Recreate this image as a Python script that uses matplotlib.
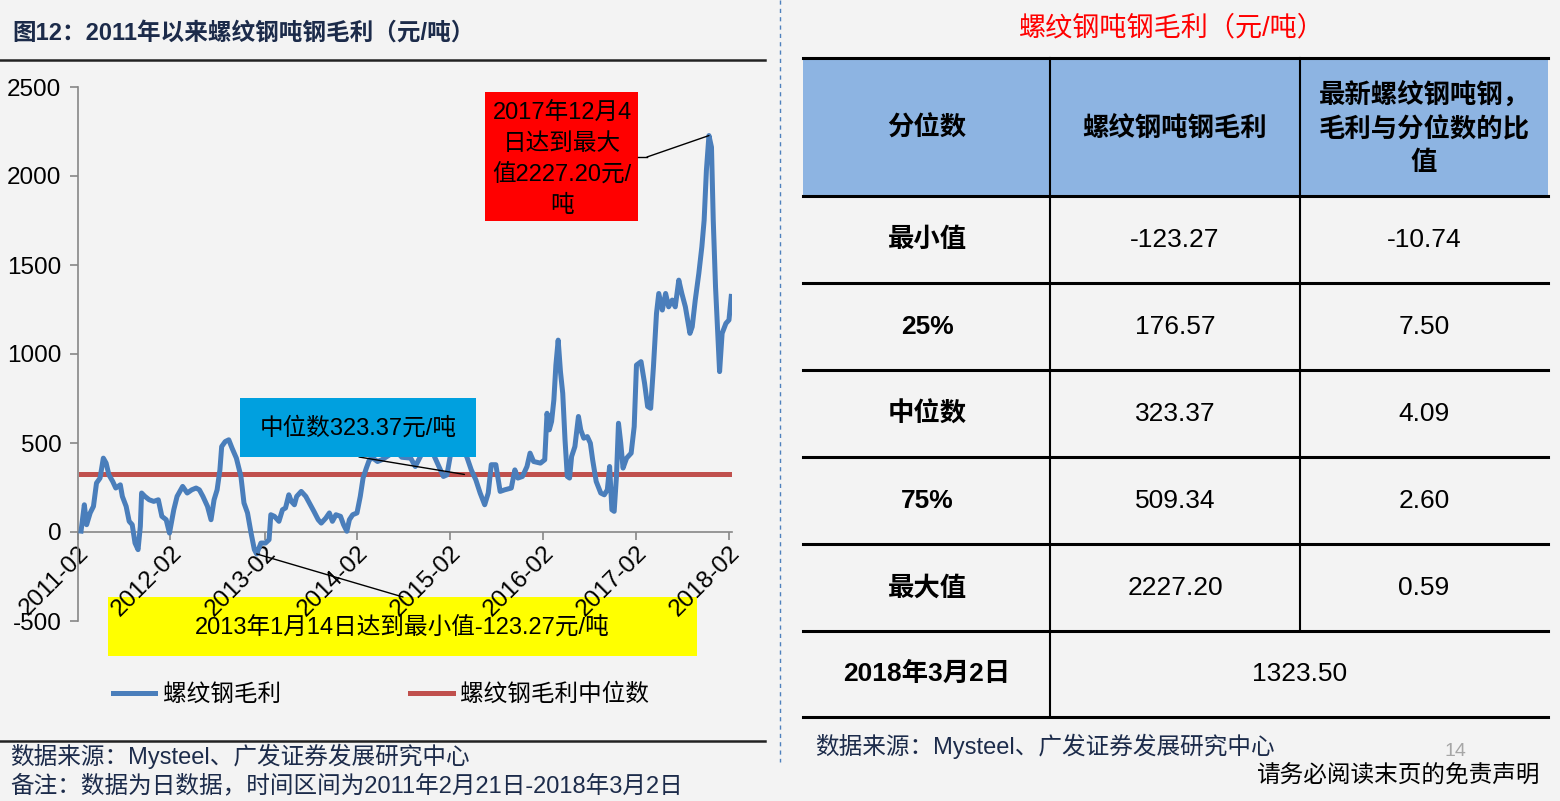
import matplotlib
matplotlib.use('Agg')
import matplotlib.pyplot as plt
from matplotlib.patches import Rectangle
from matplotlib.lines import Line2D
import pandas as pd

plt.rcParams['font.family'] = ['Liberation Sans', 'Noto Sans CJK SC', 'DejaVu Sans']
plt.rcParams['axes.unicode_minus'] = False

# ---- data (元/吨) ----
dates = [
    '2011-02-21', '2011-03-06', '2011-03-15', '2011-03-29', '2011-04-11', '2011-04-23', '2011-05-07',
    '2011-05-20', '2011-05-31', '2011-06-11', '2011-06-26', '2011-07-08', '2011-07-26', '2011-08-03',
    '2011-08-18', '2011-08-30', '2011-09-11', '2011-09-22', '2011-10-04', '2011-10-13', '2011-10-18',
    '2011-10-31', '2011-11-17', '2011-12-05', '2011-12-23',
    '2012-01-06', '2012-01-23', '2012-02-05', '2012-02-22', '2012-03-06', '2012-03-28', '2012-04-15',
    '2012-05-03', '2012-05-20', '2012-06-02', '2012-06-16', '2012-07-04', '2012-07-18', '2012-07-30',
    '2012-08-11', '2012-08-22', '2012-08-29', '2012-09-12', '2012-09-26', '2012-10-09', '2012-10-26',
    '2012-11-13', '2012-11-25', '2012-12-09', '2012-12-23',
    '2013-01-05', '2013-01-14', '2013-01-31', '2013-02-18', '2013-03-04', '2013-03-11', '2013-03-25',
    '2013-04-12', '2013-04-26', '2013-05-08', '2013-05-21', '2013-05-31', '2013-06-12', '2013-06-21',
    '2013-07-09', '2013-07-27', '2013-08-10', '2013-08-28', '2013-09-14', '2013-09-26', '2013-10-14',
    '2013-10-28', '2013-11-09', '2013-11-23', '2013-12-11', '2013-12-23',
    '2014-01-05', '2014-01-15', '2014-01-28', '2014-02-14', '2014-02-27', '2014-03-10', '2014-03-23',
    '2014-04-04', '2014-04-18', '2014-05-06', '2014-05-23', '2014-06-19', '2014-07-15', '2014-08-10',
    '2014-09-14', '2014-10-02', '2014-10-28', '2014-12-02',
    '2015-01-03', '2015-01-21', '2015-02-04', '2015-02-20', '2015-03-10', '2015-03-28', '2015-04-23',
    '2015-05-11', '2015-05-29', '2015-06-15', '2015-07-03', '2015-07-17', '2015-07-29', '2015-08-16',
    '2015-09-02', '2015-09-20', '2015-10-16', '2015-10-30', '2015-11-11', '2015-11-29', '2015-12-17',
    '2015-12-29',
    '2016-01-12', '2016-02-08', '2016-02-25', '2016-03-05', '2016-03-14', '2016-03-23', '2016-04-01',
    '2016-04-09', '2016-04-18', '2016-04-27', '2016-05-06', '2016-05-15', '2016-05-24', '2016-06-02',
    '2016-06-10', '2016-06-23', '2016-07-07', '2016-07-16', '2016-07-28', '2016-08-11', '2016-08-23',
    '2016-09-01', '2016-09-15', '2016-10-03', '2016-10-17', '2016-10-29', '2016-11-07', '2016-11-16',
    '2016-11-25', '2016-12-04', '2016-12-12', '2016-12-21', '2016-12-30',
    '2017-01-13', '2017-01-31', '2017-02-12', '2017-02-21', '2017-03-11', '2017-03-25', '2017-04-06',
    '2017-04-18', '2017-04-29', '2017-05-11', '2017-05-20', '2017-06-03', '2017-06-16', '2017-06-28',
    '2017-07-12', '2017-07-24', '2017-08-07', '2017-08-19', '2017-09-02', '2017-09-20', '2017-09-29',
    '2017-10-11', '2017-10-25', '2017-11-06', '2017-11-15', '2017-11-24', '2017-12-04', '2017-12-14',
    '2017-12-21', '2017-12-30',
    '2018-01-08', '2018-01-15', '2018-01-25', '2018-02-09', '2018-02-21', '2018-03-02',
]
margin = [
    5, 153, 41, 107, 144, 275, 303, 415, 387, 321, 284, 247, 265, 200, 144, 60, 41, -62, -99, 32, 219,
    200, 181, 172, 181,
    88, 69, -6, 125, 200, 256, 219, 237, 247, 237, 200, 144, 69, 181, 237, 349, 480, 508, 518, 471, 415,
    312, 163, 107, -6,
    -99, -123.27, -62, -62, -43, 97, 88, 60, 125, 135, 209, 172, 153, 200, 228, 200, 163, 116, 69, 50,
    78, 107, 60, 97, 88, 41,
    4, 69, 97, 107, 200, 303, 359, 406, 415, 396, 406, 430, 460, 420, 415, 368, 440, 470,
    368, 312, 321, 450, 540, 470, 424, 349, 293, 219, 153, 219, 378, 378, 228, 237, 247, 349, 303, 312,
    368, 443,
    396, 387, 406, 667, 574, 621, 742, 938, 1078, 901, 779, 518, 312, 303, 424, 480, 649, 574, 527, 536,
    499, 406, 284, 219, 209, 237, 368, 125, 116, 312, 611, 499, 359,
    415, 443, 592, 938, 957, 835, 705, 695, 929, 1228, 1340, 1247, 1340, 1265, 1303, 1265, 1415, 1340,
    1265, 1116, 1153, 1303, 1452, 1602, 1751, 2032, 2227.2, 2162, 1751, 1377,
    1116, 901, 1116, 1172, 1191, 1323.5,
]
median_value = 323.37
max_date, max_value = '2017-12-04', 2227.20
min_date, min_value = '2013-01-14', -123.27

tick_dates = ['2011-02-09', '2012-02-09', '2013-02-15', '2014-02-15', '2015-02-17',
              '2016-02-19', '2017-02-19', '2018-02-20']
tick_labels = ['2011-02', '2012-02', '2013-02', '2014-02', '2015-02', '2016-02', '2017-02', '2018-02']

# table on the right
table_title = '螺纹钢吨钢毛利（元/吨）'
header = ['分位数', '螺纹钢吨钢毛利', '最新螺纹钢吨钢，\n毛利与分位数的比\n值']
row_labels = ['最小值', '25%', '中位数', '75%', '最大值']
quantile_values = ['-123.27', '176.57', '323.37', '509.34', '2227.20']
ratio_values = ['-10.74', '7.50', '4.09', '2.60', '0.59']
latest_label, latest_value = '2018年3月2日', '1323.50'

W, H = 1560, 801
BG = '#f3f3f3'
NAVY = '#1c2b4a'


def fx(x):
    return x / W


def fy(y):
    return 1 - y / H


fig = plt.figure(figsize=(15.6, 8.01), dpi=100, facecolor=BG)

# ---- left: line chart ----
ax = fig.add_axes([fx(78), fy(621), fx(732) - fx(78), fy(87) - fy(621)])
ax.set_facecolor('none')
x = pd.to_datetime(dates)
ax.plot(x, margin, color='#4a7ebb', lw=3.6, solid_joinstyle='round', label='螺纹钢毛利', zorder=3)
ax.plot([x[0], x[-1]], [median_value, median_value], color='#c0504d', lw=3.6,
        label='螺纹钢毛利中位数', zorder=2)

ax.set_xlim(pd.Timestamp('2011-02-09'), pd.Timestamp('2018-03-05'))
ax.set_ylim(-500, 2500)
ax.set_yticks(range(-500, 2501, 500))
for s in ['top', 'right']:
    ax.spines[s].set_visible(False)
ax.spines['bottom'].set_position(('data', 0))
for s in ['bottom', 'left']:
    ax.spines[s].set_color('#868686')
    ax.spines[s].set_linewidth(1.2)
ax.tick_params(axis='both', direction='out', length=6, width=1.2, color='#868686',
               labelsize=17.5, labelcolor='black')
ax.tick_params(axis='y', pad=6)
ax.tick_params(axis='x', pad=1)
ax.set_xticks(pd.to_datetime(tick_dates))
ax.set_xticklabels(tick_labels)
for lab in ax.get_xticklabels():
    lab.set_rotation(45)
    lab.set_ha('right')
    lab.set_va('top')
    lab.set_rotation_mode('anchor')

ax.legend(loc='center', bbox_to_anchor=(fx(381), fy(695)), bbox_transform=fig.transFigure,
          ncol=2, frameon=False, fontsize=17, handlelength=1.8, handletextpad=0.3,
          columnspacing=5.5)

# max annotation (red box)
fig.add_artist(Rectangle((fx(485), fy(221)), fx(638) - fx(485), fy(92) - fy(221),
                         transform=fig.transFigure, facecolor='#ff0000', edgecolor='none', zorder=2))
fig.text(fx(562), fy(160), '2017年12月4\n日达到最大\n值2227.20元/\n吨', ha='center', va='center',
         fontsize=17, linespacing=1.5, zorder=4)
fig.add_artist(Line2D([fx(638), fx(647)], [fy(157), fy(157)], color='black', lw=1,
                      transform=fig.transFigure))
ax.annotate('', xy=(pd.Timestamp(max_date), max_value), xytext=(fx(647), fy(157)),
            textcoords='figure fraction', annotation_clip=False,
            arrowprops=dict(arrowstyle='-', color='black', lw=1, shrinkA=0, shrinkB=0))

# median annotation (cyan box)
fig.add_artist(Rectangle((fx(240), fy(457)), fx(476) - fx(240), fy(398) - fy(457),
                         transform=fig.transFigure, facecolor='#00a0df', edgecolor='none', zorder=2))
fig.text(fx(358), fy(428), '中位数323.37元/吨', ha='center', va='center', fontsize=17, zorder=4)
ax.annotate('', xy=(pd.Timestamp('2015-04-14'), median_value), xytext=(fx(359), fy(457)),
            textcoords='figure fraction', annotation_clip=False,
            arrowprops=dict(arrowstyle='-', color='black', lw=1, shrinkA=0, shrinkB=0))

# min annotation (yellow box, under the tick labels)
fig.add_artist(Rectangle((fx(108), fy(656)), fx(697) - fx(108), fy(597) - fy(656),
                         transform=fig.transFigure, facecolor='#ffff00', edgecolor='none', zorder=-1))
fig.text(fx(402), fy(627), '2013年1月14日达到最小值-123.27元/吨', ha='center', va='center',
         fontsize=17, zorder=4)
ax.annotate('', xy=(pd.Timestamp(min_date), min_value), xytext=(fx(403), fy(597)),
            textcoords='figure fraction', annotation_clip=False,
            arrowprops=dict(arrowstyle='-', color='black', lw=1, shrinkA=0, shrinkB=0))

# frame, title and notes
fig.add_artist(Line2D([0, fx(765)], [fy(60), fy(60)], color='#222222', lw=1.8, transform=fig.transFigure))
fig.add_artist(Line2D([0, fx(765)], [fy(741), fy(741)], color='#222222', lw=1.8, transform=fig.transFigure))
fig.add_artist(Line2D([fx(780), fx(780)], [1, fy(762)], color='#4f81bd', lw=1,
                      linestyle=(0, (3, 3)), transform=fig.transFigure))
fig.text(fx(12), fy(33), '图12：2011年以来螺纹钢吨钢毛利（元/吨）', fontsize=17, fontweight='bold',
         color=NAVY, va='center')
fig.text(fx(10), fy(756), '数据来源：Mysteel、广发证券发展研究中心', fontsize=17, color=NAVY, va='center')
fig.text(fx(10), fy(786), '备注：数据为日数据，时间区间为2011年2月21日-2018年3月2日', fontsize=17,
         color=NAVY, va='center')

# ---- right: table ----
fig.text(fx(1172), fy(28), table_title, color='#ff0000', fontsize=19.5, ha='center', va='center')
fig.add_artist(Rectangle((fx(803), fy(196)), fx(1548) - fx(803), fy(58) - fy(196),
                         transform=fig.transFigure, facecolor='#8db4e2', edgecolor='none'))
for yy in [58, 196, 283, 370, 457, 544, 631, 717]:
    fig.add_artist(Line2D([fx(803), fx(1548)], [fy(yy), fy(yy)], color='black', lw=2.2,
                          transform=fig.transFigure))
fig.add_artist(Line2D([fx(1050), fx(1050)], [fy(58), fy(717)], color='black', lw=1.5,
                      transform=fig.transFigure))
fig.add_artist(Line2D([fx(1300), fx(1300)], [fy(58), fy(631)], color='black', lw=1.5,
                      transform=fig.transFigure))

col_x = [927, 1175, 1424]
for cx, txt in zip(col_x, header):
    fig.text(fx(cx), fy(128), txt, ha='center', va='center', fontsize=19, fontweight='bold',
             linespacing=1.45)
row_y = [240, 327, 414, 501, 588]
for ry, lab, v1, v2 in zip(row_y, row_labels, quantile_values, ratio_values):
    fig.text(fx(col_x[0]), fy(ry), lab, ha='center', va='center', fontsize=19, fontweight='bold')
    fig.text(fx(col_x[1]), fy(ry), v1, ha='center', va='center', fontsize=19)
    fig.text(fx(col_x[2]), fy(ry), v2, ha='center', va='center', fontsize=19)
fig.text(fx(col_x[0]), fy(674), latest_label, ha='center', va='center', fontsize=19, fontweight='bold')
fig.text(fx(1300), fy(674), latest_value, ha='center', va='center', fontsize=19)

fig.text(fx(815), fy(746), '数据来源：Mysteel、广发证券发展研究中心', fontsize=17, color=NAVY, va='center')
fig.text(fx(1455), fy(751), '14', color='#a6a6a6', fontsize=14, ha='center', va='center')
fig.text(fx(1540), fy(777), '请务必阅读末页的免责声明', ha='right', fontsize=17, color='black', va='center')

fig.savefig('out.png', dpi=100, facecolor=BG)
